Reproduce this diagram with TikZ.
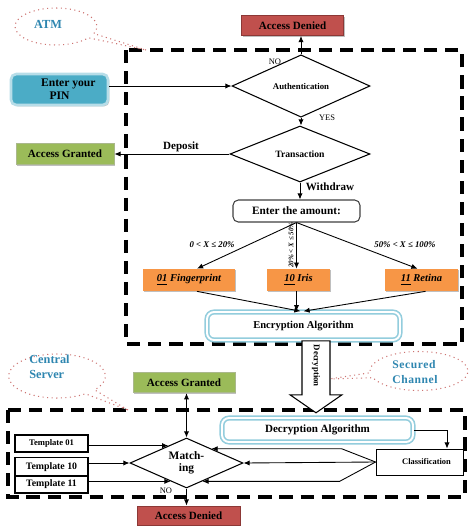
\documentclass[tikz,border=0pt]{standalone}
\usepackage{fontspec}
\setmainfont{Liberation Serif}
\usetikzlibrary{shapes.geometric,shapes.callouts,arrows.meta,calc,shadows}

\definecolor{adred}{HTML}{C0504D}
\definecolor{adredb}{HTML}{8C3836}
\definecolor{aggreen}{HTML}{9BBB59}
\definecolor{aggreenb}{HTML}{71893F}
\definecolor{pinblue}{HTML}{4BACC6}
\definecolor{pinglow}{HTML}{B7DDE8}
\definecolor{orng}{HTML}{F79646}
\definecolor{encblue}{HTML}{93CDDD}
\definecolor{callred}{HTML}{C0504D}
\definecolor{calltext}{HTML}{2E86B0}

\begin{document}
\begin{tikzpicture}[x=0.02cm,y=-0.02cm,
  conn/.style={line width=0.5pt,-{Latex[length=3.5pt,width=3pt]}},
  zone/.style={line width=1.9pt, dash pattern=on 7.5pt off 4.5pt},
  shad/.style={drop shadow={shadow xshift=0.8pt,shadow yshift=-0.8pt,fill=black,opacity=0.25}},
  redbox/.style={shad, fill=adred, draw=adredb, line width=0.5pt, inner sep=0pt,
     minimum width=2.04cm, minimum height=0.40cm, font=\fontsize{6.3}{7}\selectfont\bfseries},
  greenbox/.style={shad, fill=aggreen, draw=aggreenb!60, line width=0.5pt, inner sep=0pt,
     minimum width=1.96cm, minimum height=0.41cm, font=\fontsize{6.3}{7}\selectfont\bfseries},
  orbox/.style={shad, fill=orng, draw=none, inner sep=0pt, minimum height=0.44cm,
     font=\fontsize{6}{7}\selectfont\bfseries\itshape},
  dia/.style={diamond, draw, fill=white, line width=0.6pt, inner sep=0pt},
  algo/.style={rounded corners=4pt, draw=encblue, double=white, double distance=1.1pt,
     line width=0.9pt, fill=white, inner sep=0pt, font=\fontsize{6}{7}\selectfont\bfseries},
  tmpl/.style={draw, line width=0.6pt, fill=white, inner sep=0pt, minimum width=1.46cm},
  lbl/.style={inner sep=0pt, font=\fontsize{4.8}{5}\selectfont},
  blbl/.style={inner sep=0pt, font=\fontsize{6.3}{7}\selectfont\bfseries},
  pct/.style={inner sep=0pt, font=\fontsize{5}{5}\selectfont\bfseries\itshape},
  callout/.style={ellipse callout, draw=callred!80, dotted, line width=0.6pt, fill=white},
  calltxt/.style={inner sep=0pt, text=calltext, font=\fontsize{7}{8.5}\selectfont\bfseries, align=left}
]
\useasboundingbox (0,0) rectangle (474,532);

% zones
\draw[zone] (126,50) rectangle (462,344);
\draw[zone] (8,410) rectangle (465,497);

% callouts
\node[callout, minimum width=1.64cm, minimum height=0.74cm, callout absolute pointer={(146,50)}] (atmc) at (56,26.5) {};
\node[calltxt] (atmt) at (48,24) {ATM};
\node[callout, minimum width=1.94cm, minimum height=0.88cm, callout absolute pointer={(128,410)}] (csc) at (57,376) {};
\node[calltxt, anchor=west] (cst) at (29,367) {Central\\Server};
\node[callout, minimum width=1.96cm, minimum height=0.78cm, callout absolute pointer={(329,379)}] (scc) at (419,371) {};
\node[calltxt, anchor=west, font=\fontsize{6.6}{8}\selectfont\bfseries] (sct) at (392,372) {\addfontfeature{LetterSpace=5}Secured\\\addfontfeature{LetterSpace=5}Channel};

% ATM part
\node[redbox] (deniedA) at (292.5,25.5) {Access Denied};
\node[shad, rounded corners=3pt, fill=pinblue, draw=pinglow, line width=1.5pt, inner sep=0pt,
      minimum width=1.94cm, minimum height=0.62cm, align=center,
      font=\fontsize{6.6}{7.6}\selectfont\bfseries] (pin) at (59.5,89.5) {\hspace*{10pt}Enter your\\PIN};
\node[dia, minimum width=2.76cm, minimum height=0.84cm, font=\fontsize{5}{5}\selectfont\bfseries] (auth) at (301,86) {Authentication};
\node[dia, minimum width=2.80cm, minimum height=0.84cm, font=\fontsize{5.5}{6}\selectfont\bfseries] (trans) at (300,154) {Transaction};
\node[greenbox] (grantedA) at (65,154) {Access Granted};
\node[rounded corners=3pt, draw=black!75, line width=0.6pt, fill=white, inner sep=0pt,
      minimum width=2.54cm, minimum height=0.44cm, font=\fontsize{6.4}{7}\selectfont\bfseries] (amount) at (296.5,211) {Enter the amount:};
\node[orbox, minimum width=1.84cm] (finger) at (189,280) {\underline{01} Fingerprint};
\node[orbox, minimum width=1.26cm] (iris) at (298.5,280) {\underline{10} Iris};
\node[orbox, minimum width=1.46cm] (retina) at (421.5,280) {\underline{11} Retina};
\node[algo, minimum width=3.86cm, minimum height=0.56cm] (enc) at (303.5,326) {Encryption Algorithm};

\draw[conn] (pin.east |- auth.west) -- (auth.west);
\draw[conn] (auth.north) -- (auth.north |- deniedA.south);
\node[lbl] (noA) at (275,62) {NO};
\draw[conn] (auth.south) -- (auth.south |- trans.north);
\node[lbl] (yes) at (327,118) {YES};
\draw[conn] (trans.west) -- (trans.west -| grantedA.east);
\node[blbl] (dep) at (181,147) {Deposit};
\draw[conn] (trans.south) -- (trans.south |- amount.north);
\node[blbl] (wd) at (330,187) {Withdraw};

\draw[conn] (amount.south) -- ($(finger.north)+(8,0)$);
\draw[conn] (amount.south) -- (amount.south |- iris.north);
\draw[conn] (amount.south) -- ($(retina.north)+(-4,0)$);
\node[pct] (p1) at (212,245) {0 < X ≤ 20\%};
\node[pct, rotate=90, font=\fontsize{4}{4}\selectfont\bfseries\itshape] (p2) at (291,245) {20\% < X ≤ 50\%};
\node[pct] (p3) at (405,245) {50\% < X ≤ 100\%};

\draw[conn] ($(finger.south)+(8,0)$) -- ($(enc.north)+(-3,0)$);
\draw[conn] (amount.south |- iris.south) -- (amount.south |- enc.north);
\draw[conn] ($(retina.south)+(4,0)$) -- ($(enc.north)+(0,0)$);

% big arrow
\draw[fill=white, line width=0.6pt]
  ($(enc.south)+(-1.5,0)$) -- ($(enc.south)+(26.5,0)$) -- ($(enc.south)+(26.5,54)$)
  -- ($(enc.south)+(38.5,54)$) -- ($(enc.south)+(12.5,72)$) -- ($(enc.south)+(-13.5,54)$)
  -- ($(enc.south)+(-1.5,54)$) -- cycle;
\node[rotate=-90, inner sep=0pt, font=\fontsize{5}{5}\selectfont\bfseries] (dectxt) at ($(enc.south)+(12.5,25)$) {Decryption};

% Central server part
\node[greenbox, minimum width=2.04cm] (grantedB) at (184,382.5) {Access Granted};
\node[algo, minimum width=3.82cm, minimum height=0.48cm, font=\fontsize{6.3}{7}\selectfont\bfseries] (decA) at (317.5,430) {Decryption Algorithm};
\node[draw, line width=0.5pt, fill=white, inner sep=0pt, minimum width=1.74cm, minimum height=0.52cm,
      font=\fontsize{4.8}{5}\selectfont\bfseries] (classif) at (419.5,462) {\hspace*{8pt}Classification};
\node[dia, aspect=2.26, minimum width=2.26cm, minimum height=1.0cm, align=center,
      font=\fontsize{6.5}{7}\selectfont\bfseries] (match) at (186.5,463) {Match-\\ing};
\node[tmpl, minimum height=0.34cm, font=\fontsize{4.9}{5}\selectfont\bfseries] (t01) at (51.5,443.5) {Template 01};
\node[tmpl, minimum height=0.38cm, font=\fontsize{5.6}{6}\selectfont\bfseries] (t10) at (51.5,467) {Template 10};
\node[tmpl, minimum height=0.34cm, font=\fontsize{5.6}{6}\selectfont\bfseries] (t11) at (51.5,484.5) {Template 11};
\node[redbox, minimum width=2.06cm, minimum height=0.38cm] (deniedB) at (188.5,515.5) {Access Denied};

\draw[conn] (decA.east) -| ($(classif.north)+(27.5,0)$);
\draw[line width=0.5pt, {Latex[length=3.5pt,width=3pt]}-{Latex[length=3.5pt,width=3pt]}]
  (match.north) -- (match.north |- grantedB.south);

\coordinate (m1) at ($(match.west)!0.68!(match.north)$);
\coordinate (m3) at ($(match.west)!0.72!(match.south)$);
\coordinate (m4) at ($(match.east)!0.56!(match.north)$);
\coordinate (m5) at ($(match.east)!0.72!(match.south)$);
\draw[conn] (t01.east |- m1) -- (m1);
\draw[conn] (t10.east |- match.west) -- (match.west);
\draw[conn] (t11.east |- m3) -- (m3);

\draw[conn] (classif.west) -- ($(m4 -| classif.west)+(-34,0)$) -- (m4);
\draw[conn] (classif.west) -- ($(m5 -| classif.west)+(-36,0)$) -- (m5);
\draw[conn] (classif.west) -- (match.east);

\draw[conn] (match.south) -- (match.south |- deniedB.north);
\node[lbl] (noB) at (166,491) {NO};
\end{tikzpicture}
\end{document}
